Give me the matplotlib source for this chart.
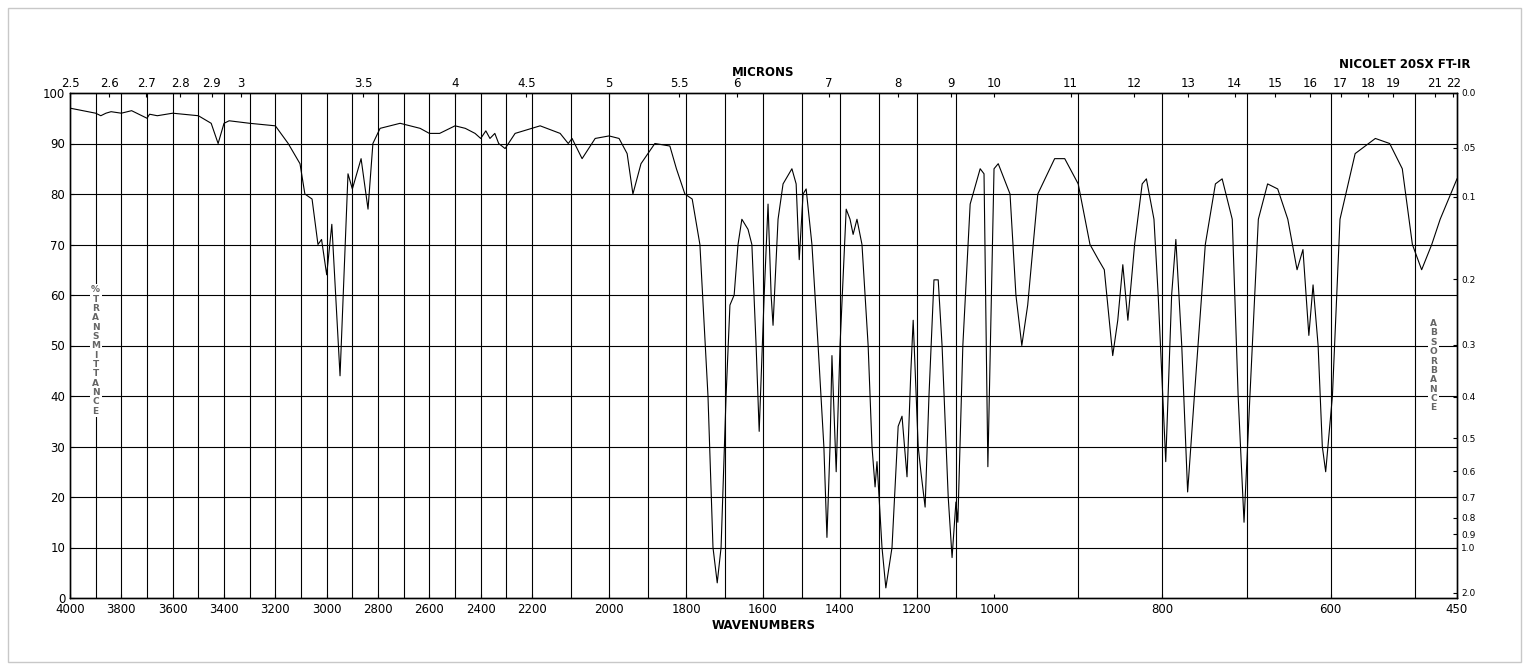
import numpy as np
import matplotlib
matplotlib.use("Agg")
import matplotlib.pyplot as plt
from matplotlib.patches import Rectangle

wavenumber = [4000,3950,3900,3880,3860,3840,3800,3760,3720,3700,3690,3660,3600,3500,3450,3423,3400,3380,3300,3200,3150,3104,3085,3057,3034,3020,3000,2980,2948,2917,2900,2866,2839,2820,2792,2714,2636,2600,2560,2500,2460,2422,2400,2380,2364,2345,2330,2305,2266,2179,2127,2106,2096,2070,2036,2000,1974,1953,1938,1917,1881,1842,1825,1803,1784,1764,1743,1730,1719,1709,1696,1686,1675,1665,1655,1639,1629,1618,1610,1597,1587,1579,1574,1561,1548,1525,1514,1506,1496,1488,1473,1457,1442,1434,1426,1421,1410,1400,1384,1374,1366,1356,1343,1327,1317,1309,1304,1291,1281,1265,1249,1239,1226,1216,1210,1197,1190,1179,1169,1156,1145,1135,1119,1109,1099,1094,1081,1062,1036,1026,1016,1000,995,981,974,967,960,948,928,916,900,886,876,869,859,853,847,841,833,824,819,810,805,796,789,784,777,770,762,749,737,729,717,710,703,696,686,675,663,651,640,633,626,621,615,610,606,598,589,571,547,530,515,503,492,480,470,450]
transmittance = [97,96.5,96,95.5,96,96.3,96,96.5,95.5,95,95.8,95.5,96,95.5,94,90,94,94.5,94,93.5,90,86,80,79,70,71,64,74,44,84,81,87,77,90,93,94,93,92,92,93.5,93,92,91,92.5,91,92,90,89,92,93.5,92,90,91,87,91,91.5,91,88,80,86,90,89.5,85,80,79,70,40,10,3,10,40,58,60,70,75,73,70,50,33,60,78,60,54,75,82,85,82,67,80,81,70,50,30,12,30,48,25,50,77,75,72,75,70,50,30,22,27,10,2,10,34,36,24,45,55,30,25,18,40,63,63,50,20,8,19,15,50,78,85,84,26,85,86,80,60,50,58,80,87,87,82,70,67,65,48,55,66,55,70,82,83,75,60,27,60,71,50,21,40,70,82,83,75,40,15,40,75,82,81,75,65,69,52,62,50,30,25,40,75,88,91,90,85,70,65,70,75,83]

bottom_ticks = [4000,3800,3600,3400,3200,3000,2800,2600,2400,2200,2000,1800,1600,1400,1200,1000,800,600,450]
micron_ticks = [2.5,2.6,2.7,2.8,2.9,3,3.5,4,4.5,5,5.5,6,7,8,9,10,11,12,13,14,15,16,17,18,19,21,22]
absorb_ticks = [0.0,0.05,0.1,0.2,0.3,0.4,0.5,0.6,0.7,0.8,0.9,1.0,2.0]
absorb_labels = ["0.0",".05","0.1","0.2","0.3","0.4","0.5","0.6","0.7","0.8","0.9","1.0","2.0"]

# piecewise-linear wavenumber scale (px per cm-1: 0.2567, 0.385, 0.8418)
BP = np.array([450.0, 1000.0, 2200.0, 4000.0])
POS = np.array([0.0, 550*0.8418, 550*0.8418+1200*0.385, 550*0.8418+1200*0.385+1800*0.2567])
def fwd(x):
    return np.interp(np.asarray(x, float), BP, POS)
def inv(y):
    return np.interp(np.asarray(y, float), POS, BP)

fig = plt.figure(figsize=(15.3, 6.7), dpi=100)
fig.patches.append(Rectangle((8/1530, 8/670), 1513/1530, 654/670, transform=fig.transFigure,
                             fill=False, edgecolor="#c8c8c8", lw=1))
ax = fig.add_axes([70/1530, 1-598/670, 1387/1530, 505/670])
ax.set_xscale("function", functions=(fwd, inv))
ax.set_xlim(4000, 450)
ax.set_ylim(0, 100)

grid_x = list(range(3900, 1000, -100)) + [900, 800, 700, 600, 500]
for g in grid_x:
    ax.axvline(g, color="black", lw=0.8, zorder=1)
for g in range(10, 100, 10):
    ax.axhline(g, color="black", lw=0.8, zorder=1)

ax.plot(wavenumber, transmittance, color="black", lw=0.8, zorder=3)

ax.set_xticks(bottom_ticks)
ax.set_xticklabels([str(t) for t in bottom_ticks], fontsize=8.5)
ax.set_yticks(range(0, 101, 10))
ax.set_yticklabels([str(t) for t in range(0, 101, 10)], fontsize=8.5)
ax.tick_params(direction="in", length=3, width=0.8)
ax.set_xlabel("WAVENUMBERS", fontsize=8.5, fontweight="bold", labelpad=2)

top = ax.twiny()
top.set_xscale("function", functions=(fwd, inv))
top.set_xlim(4000, 450)
top.set_xticks([10000/m for m in micron_ticks])
top.set_xticklabels([("%g" % m) for m in micron_ticks], fontsize=8.5)
top.tick_params(direction="in", length=3, width=0.8, pad=2)
top.set_xlabel("MICRONS", fontsize=8.5, fontweight="bold", labelpad=1)

right = ax.twinx()
right.set_ylim(0, 100)
right.set_yticks([100*10**(-a) for a in absorb_ticks])
right.set_yticklabels(absorb_labels, fontsize=6.5)
right.tick_params(direction="in", length=3, width=0.8, pad=3)

for sp in list(ax.spines.values()) + list(top.spines.values()) + list(right.spines.values()):
    sp.set_linewidth(0.9)

fig.text(1405/1530, 1-65/670, "NICOLET 20SX FT-IR", fontsize=8.5, fontweight="bold", ha="center", va="center")

ax.text(3900, 49, "\n".join("%TRANSMITTANCE"), fontsize=6.5, fontweight="bold", color="#666666",
        ha="center", va="center", linespacing=1.05, zorder=4,
        bbox=dict(facecolor="white", edgecolor="none", pad=1))
ax.text(478, 46, "\n".join("ABSORBANCE"), fontsize=6.5, fontweight="bold", color="#666666",
        ha="center", va="center", linespacing=1.05, zorder=4,
        bbox=dict(facecolor="white", edgecolor="none", pad=1))

fig.savefig("out.png", dpi=100)
